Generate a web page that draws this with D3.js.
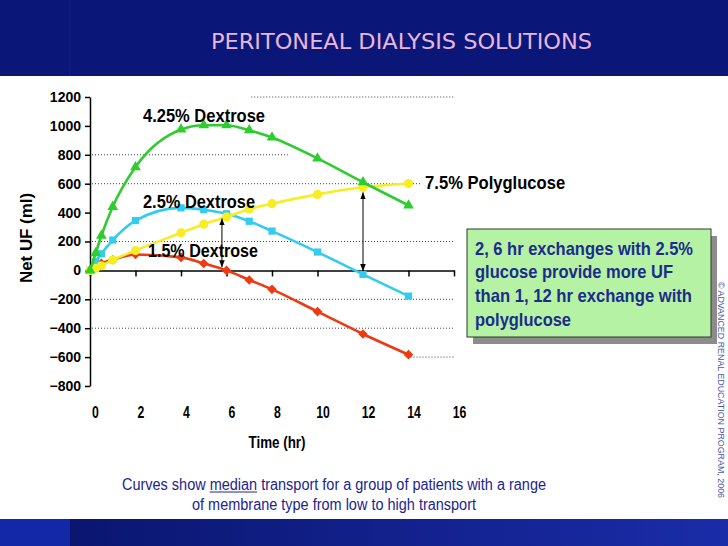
<!DOCTYPE html>
<html>
<head>
<meta charset="utf-8">
<script src="https://cdn.jsdelivr.net/npm/d3@7"></script>
<style>
  html, body { margin: 0; padding: 0; background: #fff; }
  svg { display: block; }
</style>
</head>
<body>
<svg id="chart" width="728" height="546"></svg>
<script>
// ---------------- data ----------------
const times   = [0, 0.25, 0.5, 1, 2, 4, 5, 6, 7, 8, 10, 12, 14];
const dex425  = [0, 120, 240, 440, 715, 975, 1005, 1005, 970, 920, 775, 610, 450];
const dex25   = [0, 60, 115, 210, 345, 433, 420, 392, 340, 272, 127, -28, -178];
const poly75  = [0, 15, 32, 72, 138, 260, 320, 370, 424, 462, 526, 575, 601];
const dex15   = [0, 30, 50, 74, 110, 90, 48, 0, -66, -131, -285, -440, -583];

const seriesNames = ["1.5% Dextrose", "2.5% Dextrose", "7.5% Polyglucose", "4.25% Dextrose"];
const xTicks = [0, 2, 4, 6, 8, 10, 12, 14, 16];
const yTicks = [-800, -600, -400, -200, 0, 200, 400, 600, 800, 1000, 1200];

// visible dotted gridlines (value, from time, to time)
const gridValues = [1200, 800, 600, 200, -200, -400, -600];
const gridFrom   = [7, 0, 0, 0, 0, 0, 14];
const gridTo     = [16, 8.7, 14.6, 16, 16, 16, 16];

// double-headed comparison arrows (time, top value, bottom value)
const arrowTimes  = [5.8, 12];
const arrowTop    = [360, 540];
const arrowBottom = [22, -5];

const titleText = "PERITONEAL DIALYSIS SOLUTIONS";
const boxLines = ["2, 6 hr exchanges with 2.5%", "glucose provide more UF",
                  "than 1, 12 hr exchange with", "polyglucose"];
const captionLine1 = "Curves show median transport for a group of patients with a range";
const captionUnderlined = "median";
const captionLine2 = "of membrane type from low to high transport";
const copyright = "© ADVANCED RENAL EDUCATION PROGRAM, 2006";

// ---------------- setup ----------------
const svg = d3.select("#chart");
const x = d3.scaleLinear().domain([0, 16]).range([90, 454]);
const y = d3.scaleLinear().domain([-800, 1200]).range([386, 97]);

const BOLD = "'Liberation Sans', Arial, sans-serif";
const NARROW = "'Liberation Sans Narrow', 'Arial Narrow', 'Liberation Sans', sans-serif";

// ---------------- slide background ----------------
const defs = svg.append("defs");
const grad = defs.append("linearGradient").attr("id", "bandGrad").attr("x1", "0").attr("x2", "1");
grad.append("stop").attr("offset", "0").attr("stop-color", "#0a1670");
grad.append("stop").attr("offset", "1").attr("stop-color", "#1a2ca8");

svg.append("rect").attr("x", 0).attr("y", 0).attr("width", 728).attr("height", 76).attr("fill", "#0b1778");
svg.append("line").attr("x1", 70).attr("x2", 70).attr("y1", 0).attr("y2", 76)
   .attr("stroke", "#12208a").attr("stroke-width", 1);
svg.append("text").attr("x", 211).attr("y", 49)
   .attr("font-family", "'DejaVu Sans', Verdana, sans-serif").attr("font-size", 21)
   .attr("fill", "#e8b6d8").attr("textLength", 381).attr("lengthAdjust", "spacingAndGlyphs")
   .text(titleText);

svg.append("rect").attr("x", 70).attr("y", 519).attr("width", 658).attr("height", 27).attr("fill", "url(#bandGrad)");
svg.append("rect").attr("x", 0).attr("y", 519).attr("width", 70).attr("height", 27).attr("fill", "#1328a6");

// ---------------- gridlines ----------------
svg.append("g").selectAll("line").data(gridValues).join("line")
  .attr("x1", (d, i) => x(gridFrom[i]) + 2)
  .attr("x2", (d, i) => x(gridTo[i]))
  .attr("y1", d => y(d)).attr("y2", d => y(d))
  .attr("stroke", "#444").attr("stroke-width", 1).attr("stroke-dasharray", "1,2");

// label background hides a gridline segment (like a text box in the slide)
svg.append("rect").attr("x", x(2.5)).attr("y", y(185)).attr("width", 112).attr("height", 16).attr("fill", "#fff");

// ---------------- axes ----------------
const yAxis = svg.append("g").attr("transform", `translate(${x(0)},0)`)
  .call(d3.axisLeft(y).tickValues(yTicks).tickSize(5).tickSizeOuter(0).tickPadding(4).tickFormat(d3.format("d")));
yAxis.select(".domain").attr("stroke", "#000").attr("stroke-width", 1.5);
yAxis.selectAll(".tick line").attr("stroke", "#000").attr("stroke-width", 1.5);
yAxis.selectAll("text").attr("font-family", BOLD).attr("font-weight", "bold")
  .attr("font-size", 14).attr("fill", "#000");

const xAxis = svg.append("g").attr("transform", `translate(0,${y(0)})`)
  .call(d3.axisBottom(x).tickValues(xTicks).tickSize(6).tickSizeOuter(0).tickFormat(""));
xAxis.select(".domain").attr("stroke", "#000").attr("stroke-width", 1.5);
xAxis.selectAll(".tick line").attr("stroke", "#000").attr("stroke-width", 1.5);

const xLab = svg.append("g").attr("transform", `translate(5,${y(-800) + 21})`)
  .call(d3.axisBottom(x).tickValues(xTicks).tickSize(0).tickPadding(0).tickFormat(d3.format("d")));
xLab.select(".domain").remove();
xLab.selectAll("text").attr("font-family", NARROW).attr("font-weight", "bold")
  .attr("font-size", 16).attr("fill", "#000")
  .attr("textLength", d => String(d).length * 6.8).attr("lengthAdjust", "spacingAndGlyphs");

svg.append("text").attr("x", 277).attr("y", 448).attr("text-anchor", "middle")
  .attr("font-family", NARROW).attr("font-weight", "bold").attr("font-size", 17)
  .attr("textLength", 57).attr("lengthAdjust", "spacingAndGlyphs").text("Time (hr)");

svg.append("text").attr("transform", "translate(32,238) rotate(-90)").attr("text-anchor", "middle")
  .attr("font-family", BOLD).attr("font-weight", "bold").attr("font-size", 16)
  .attr("textLength", 90).attr("lengthAdjust", "spacingAndGlyphs").text("Net UF (ml)");

// ---------------- series ----------------
const series = [
  { name: seriesNames[0], values: dex15,  color: "#ee3a12", shape: "diamond" },
  { name: seriesNames[1], values: dex25,  color: "#33ccee", shape: "square" },
  { name: seriesNames[2], values: poly75, color: "#f6ee22", shape: "circle" },
  { name: seriesNames[3], values: dex425, color: "#2ecc2e", shape: "triangle" }
];

const line = d3.line().x(d => x(d[0])).y(d => y(d[1])).curve(d3.curveMonotoneX);
const symbols = {
  diamond:  d3.symbol().type(d3.symbolSquare).size(46),
  square:   d3.symbol().type(d3.symbolSquare).size(52),
  circle:   d3.symbol().type(d3.symbolCircle).size(66),
  triangle: d3.symbol().type(d3.symbolTriangle).size(50)
};

series.forEach(s => {
  const pts = times.map((t, i) => [t, s.values[i]]);
  const g = svg.append("g");
  g.append("path").datum(pts).attr("d", line)
    .attr("fill", "none").attr("stroke", s.color).attr("stroke-width", 2.6);
  g.selectAll("path.m").data(pts).join("path").attr("class", "m")
    .attr("d", symbols[s.shape])
    .attr("transform", d => `translate(${x(d[0])},${y(d[1])})` + (s.shape === "diamond" ? " rotate(45)" : ""))
    .attr("fill", s.color);
});

// ---------------- arrows ----------------
defs.append("marker").attr("id", "ah").attr("viewBox", "0 0 10 10").attr("refX", 10).attr("refY", 5)
  .attr("markerWidth", 7).attr("markerHeight", 7).attr("orient", "auto-start-reverse")
  .append("path").attr("d", "M0,1 L10,5 L0,9 Z").attr("fill", "#000");

svg.append("g").selectAll("line").data(arrowTimes).join("line")
  .attr("x1", d => x(d)).attr("x2", d => x(d))
  .attr("y1", (d, i) => y(arrowTop[i])).attr("y2", (d, i) => y(arrowBottom[i]))
  .attr("stroke", "#000").attr("stroke-width", 1)
  .attr("marker-start", "url(#ah)").attr("marker-end", "url(#ah)");

// ---------------- series labels ----------------
const labelSpecs = [
  { text: seriesNames[3], t: 2.33, v: 1027, w: 122 },
  { text: seriesNames[1], t: 2.33, v: 432,  w: 112 },
  { text: seriesNames[0], t: 2.55, v: 93,   w: 110 },
  { text: seriesNames[2], t: 14.73, v: 563, w: 140 }
];
svg.append("g").selectAll("text").data(labelSpecs).join("text")
  .attr("x", d => x(d.t)).attr("y", d => y(d.v))
  .attr("font-family", BOLD).attr("font-weight", "bold").attr("font-size", 18).attr("fill", "#000")
  .attr("textLength", d => d.w).attr("lengthAdjust", "spacingAndGlyphs")
  .text(d => d.text);

// ---------------- note box ----------------
svg.append("rect").attr("x", 473).attr("y", 236).attr("width", 244).attr("height", 108).attr("fill", "#8c8c8c");
svg.append("rect").attr("x", 467).attr("y", 229).attr("width", 244).attr("height", 108)
  .attr("fill", "#b6f2a4").attr("stroke", "#2a3a2a").attr("stroke-width", 1);
const boxWidths = [218, 198, 217, 96];
svg.append("g").selectAll("text").data(boxLines).join("text")
  .attr("x", 475).attr("y", (d, i) => 254.5 + i * 23.8)
  .attr("font-family", BOLD).attr("font-weight", "bold").attr("font-size", 19).attr("fill", "#1c2c8c")
  .attr("textLength", (d, i) => boxWidths[i]).attr("lengthAdjust", "spacingAndGlyphs")
  .text(d => d);

// ---------------- caption ----------------
const capX = 122, capW = 424;
const cap1 = svg.append("text").attr("x", capX).attr("y", 490)
  .attr("font-family", NARROW).attr("font-size", 16).attr("fill", "#1c2490")
  .text(captionLine1);
const uStart = captionLine1.indexOf(captionUnderlined);
const cn = cap1.node();
const natural = cn.getComputedTextLength();
const k = capW / natural;
const ux1 = capX + cn.getSubStringLength(0, uStart) * k;
const ux2 = ux1 + cn.getSubStringLength(uStart, captionUnderlined.length) * k;
cap1.attr("textLength", capW).attr("lengthAdjust", "spacingAndGlyphs");
svg.append("line").attr("x1", ux1).attr("x2", ux2).attr("y1", 492).attr("y2", 492)
  .attr("stroke", "#1c2490").attr("stroke-width", 1);

svg.append("text").attr("x", 192).attr("y", 510)
  .attr("font-family", NARROW).attr("font-size", 16).attr("fill", "#1c2490")
  .attr("textLength", 284).attr("lengthAdjust", "spacingAndGlyphs").text(captionLine2);

// ---------------- copyright ----------------
svg.append("text").attr("transform", "translate(718,282) rotate(90)")
  .attr("font-family", BOLD).attr("font-size", 9).attr("fill", "#4a58a8")
  .attr("textLength", 216).attr("lengthAdjust", "spacingAndGlyphs").text(copyright);
</script>
</body>
</html>
